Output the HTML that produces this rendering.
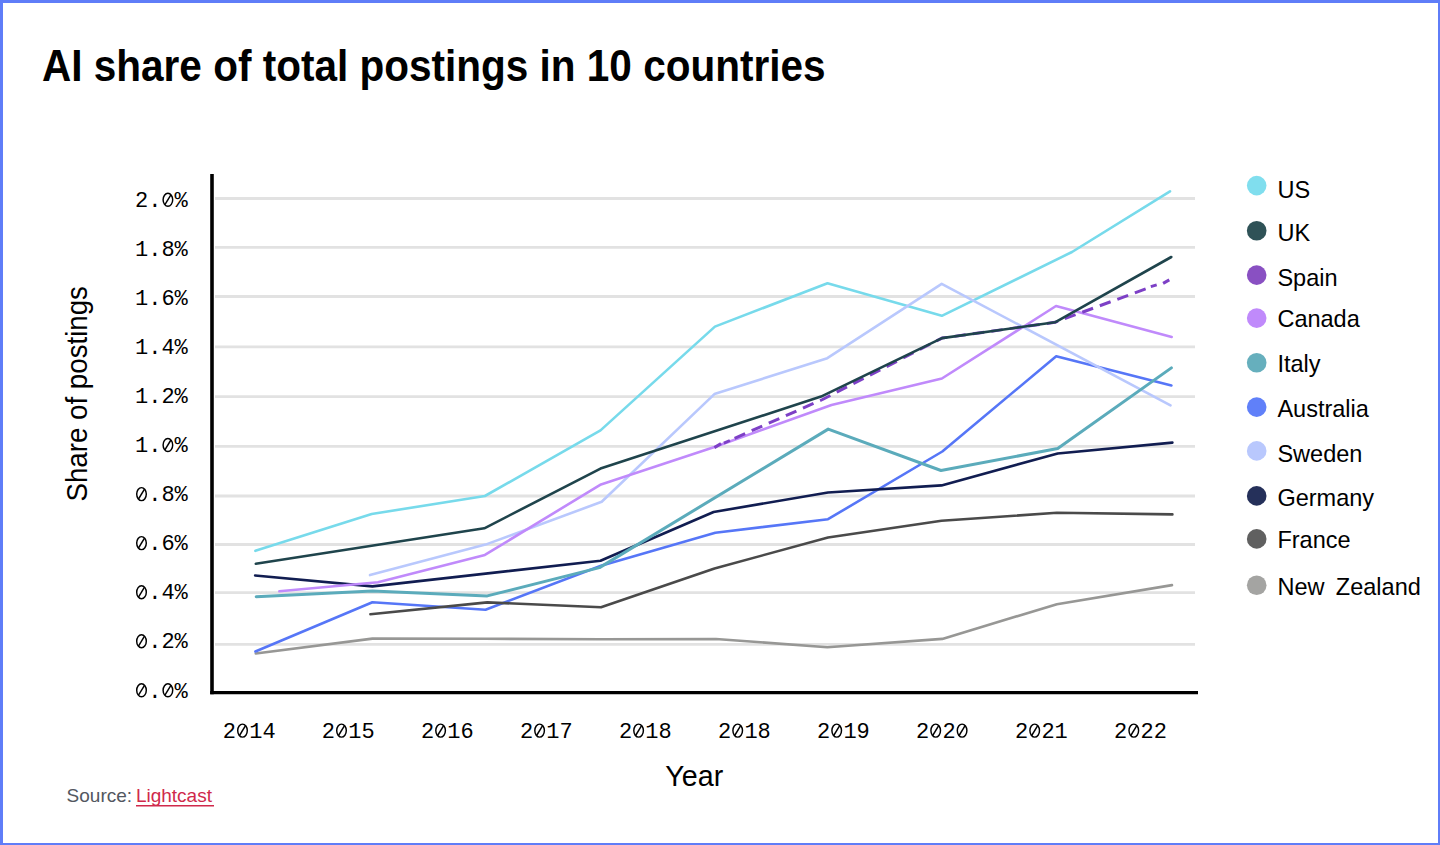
<!DOCTYPE html>
<html>
<head>
<meta charset="utf-8">
<style>
html,body{margin:0;padding:0;width:1440px;height:845px;overflow:hidden;background:#5f7df8;}
#card{position:absolute;left:3px;top:3px;width:1435px;height:840px;background:#fff;}
svg{position:absolute;left:0;top:0;}
.t{font-family:"Liberation Sans",sans-serif;}
.m{font-family:"Liberation Mono",monospace;}
</style>
</head>
<body>
<div id="card"></div>
<svg width="1440" height="845" viewBox="0 0 1440 845">
  <!-- title -->
  <text class="t" x="42" y="81.3" font-size="44.5" font-weight="bold" fill="#000" transform="translate(42 0) scale(0.911 1) translate(-42 0)">AI share of total postings in 10 countries</text>

  <!-- gridlines -->
  <g stroke="#e2e2e2" stroke-width="2.8" fill="none">
    <line x1="215" x2="1195" y1="198.5" y2="198.5"/>
    <line x1="215" x2="1195" y1="247.4" y2="247.4"/>
    <line x1="215" x2="1195" y1="296.5" y2="296.5"/>
    <line x1="215" x2="1195" y1="346.9" y2="346.9"/>
    <line x1="215" x2="1195" y1="396.6" y2="396.6"/>
    <line x1="215" x2="1195" y1="446.3" y2="446.3"/>
    <line x1="215" x2="1195" y1="496.0" y2="496.0"/>
    <line x1="215" x2="1195" y1="544.5" y2="544.5"/>
    <line x1="215" x2="1195" y1="592.6" y2="592.6"/>
    <line x1="215" x2="1195" y1="644.4" y2="644.4"/>
  </g>

  <!-- axis labels -->
  <g class="m" font-size="22" fill="#000">
    <text x="135.0" y="207.0">2. %</text>
    <text x="135.0" y="256.0">1.8%</text>
    <text x="135.0" y="305.1">1.6%</text>
    <text x="135.0" y="354.1">1.4%</text>
    <text x="135.0" y="403.2">1.2%</text>
    <text x="135.0" y="452.2">1. %</text>
    <text x="135.0" y="501.3"> .8%</text>
    <text x="135.0" y="550.3"> .6%</text>
    <text x="135.0" y="599.4"> .4%</text>
    <text x="135.0" y="648.4"> .2%</text>
    <text x="135.0" y="697.5"> . %</text>
    <text x="222.8" y="737.8">2 14</text>
    <text x="321.8" y="737.8">2 15</text>
    <text x="420.9" y="737.8">2 16</text>
    <text x="519.9" y="737.8">2 17</text>
    <text x="618.9" y="737.8">2 18</text>
    <text x="718.0" y="737.8">2 18</text>
    <text x="817.0" y="737.8">2 19</text>
    <text x="916.0" y="737.8">2 2 </text>
    <text x="1015.0" y="737.8">2 21</text>
    <text x="1114.1" y="737.8">2 22</text>
  </g>
  <g fill="none" stroke="#000" stroke-width="1.45">
    <ellipse cx="167.90" cy="199.80" rx="4.8" ry="6.5"/><line x1="170.90" y1="194.80" x2="164.90" y2="204.70"/>
    <ellipse cx="167.90" cy="445.00" rx="4.8" ry="6.5"/><line x1="170.90" y1="440.00" x2="164.90" y2="449.90"/>
    <ellipse cx="141.50" cy="494.10" rx="4.8" ry="6.5"/><line x1="144.50" y1="489.10" x2="138.50" y2="499.00"/>
    <ellipse cx="141.50" cy="543.10" rx="4.8" ry="6.5"/><line x1="144.50" y1="538.10" x2="138.50" y2="548.00"/>
    <ellipse cx="141.50" cy="592.20" rx="4.8" ry="6.5"/><line x1="144.50" y1="587.20" x2="138.50" y2="597.10"/>
    <ellipse cx="141.50" cy="641.20" rx="4.8" ry="6.5"/><line x1="144.50" y1="636.20" x2="138.50" y2="646.10"/>
    <ellipse cx="141.50" cy="690.30" rx="4.8" ry="6.5"/><line x1="144.50" y1="685.30" x2="138.50" y2="695.20"/>
    <ellipse cx="167.90" cy="690.30" rx="4.8" ry="6.5"/><line x1="170.90" y1="685.30" x2="164.90" y2="695.20"/>
    <ellipse cx="242.50" cy="730.60" rx="4.8" ry="6.5"/><line x1="245.50" y1="725.60" x2="239.50" y2="735.50"/>
    <ellipse cx="341.50" cy="730.60" rx="4.8" ry="6.5"/><line x1="344.50" y1="725.60" x2="338.50" y2="735.50"/>
    <ellipse cx="440.60" cy="730.60" rx="4.8" ry="6.5"/><line x1="443.60" y1="725.60" x2="437.60" y2="735.50"/>
    <ellipse cx="539.60" cy="730.60" rx="4.8" ry="6.5"/><line x1="542.60" y1="725.60" x2="536.60" y2="735.50"/>
    <ellipse cx="638.60" cy="730.60" rx="4.8" ry="6.5"/><line x1="641.60" y1="725.60" x2="635.60" y2="735.50"/>
    <ellipse cx="737.70" cy="730.60" rx="4.8" ry="6.5"/><line x1="740.70" y1="725.60" x2="734.70" y2="735.50"/>
    <ellipse cx="836.70" cy="730.60" rx="4.8" ry="6.5"/><line x1="839.70" y1="725.60" x2="833.70" y2="735.50"/>
    <ellipse cx="935.70" cy="730.60" rx="4.8" ry="6.5"/><line x1="938.70" y1="725.60" x2="932.70" y2="735.50"/>
    <ellipse cx="962.10" cy="730.60" rx="4.8" ry="6.5"/><line x1="965.10" y1="725.60" x2="959.10" y2="735.50"/>
    <ellipse cx="1034.70" cy="730.60" rx="4.8" ry="6.5"/><line x1="1037.70" y1="725.60" x2="1031.70" y2="735.50"/>
    <ellipse cx="1133.80" cy="730.60" rx="4.8" ry="6.5"/><line x1="1136.80" y1="725.60" x2="1130.80" y2="735.50"/>
  </g>

  <!-- axis titles -->
  <text class="t" font-size="29" fill="#000" transform="translate(87.3 501.5) rotate(-90) scale(0.955 1)">Share of postings</text>
  <text class="t" font-size="30" fill="#000" transform="translate(665.3 785.6) scale(0.955 1)">Year</text>

  <!-- source -->
  <text class="t" font-size="19" x="66.6" y="801.7" fill="#525760">Source:</text>
  <text class="t" font-size="19" x="135.9" y="801.7" fill="#d0294b">Lightcast</text>
  <line x1="136" x2="214" y1="805.8" y2="805.8" stroke="#d0294b" stroke-width="1.6"/>

  <!-- series -->
  <g fill="none" stroke-width="2.6" stroke-linejoin="round" stroke-linecap="round">
    <polyline stroke="#77daeb" points="255.4,550.8 371.7,514 484.9,496 600.5,430.4 714.9,326.6 827.5,283.3 941.8,315.8 1072,252 1170,191.3"/>
    <polyline stroke="#979795" points="255.8,653.5 372.4,638.6 485,638.8 600,639.2 716,639 827.3,647.2 942.3,638.9 1056.9,604.2 1172,585.1"/>
    <polyline stroke="#5676f7" points="255.4,651.5 372.4,602.3 485.5,609.8 601,565.8 715.3,532.7 828,519.2 942.3,451.5 1056.2,356.2 1171.4,385.4"/>
    <polyline stroke="#4a4a4a" points="370.4,614.2 487.3,602.4 601,607.3 714.5,568.5 828,537.5 941.5,520.7 1056.9,512.8 1172.4,514.4"/>
    <polyline stroke="#111d51" points="255.1,575.5 372.4,586.4 600.5,560.7 713.6,512 828,492.5 941.5,485.4 1057.7,453.5 1172.4,442.6"/>
    <polyline stroke="#b9c8fd" points="370,575.1 485.5,544.6 601.7,501.8 714.4,394.1 827.3,358.2 941.7,283.8 1170.5,405.4"/>
    <polyline stroke="#5babbb" stroke-width="3" points="256.2,596.7 372.4,591 487.3,595.9 599.5,567.6 828.2,429.1 941,470.5 1057.7,448.5 1171.4,367.9"/>
    <polyline stroke="#c08afb" points="279.4,591.3 378,582.3 484.9,554.9 601,484.4 714.5,447 831.5,405 941.9,378.5 1056,306 1171.7,336.9"/>
    <polyline stroke="#7d40c6" stroke-width="3" stroke-linecap="butt" stroke-dasharray="11.5 7.18" stroke-dashoffset="-3.4" points="731.5,439.65 822.5,399.5 942,338.1 1055,322.3 1146,288.7"/>
    <path stroke="#7d40c6" stroke-width="3" stroke-linecap="butt" d="M714.4 447.6 L721 443.6 M723.9 443.2 L729.9 440.5"/>
    <path stroke="#7d40c6" stroke-width="3" stroke-linecap="butt" d="M1150.8 286.6 L1156.7 284.9 M1163.1 283.4 L1169.3 279.9"/>
    <polyline stroke="#1f444c" points="255.8,563.8 484.3,528.3 600.5,468.6 821,396.6 942,338.1 1055,322.3 1171.3,257"/>
  </g>

  <!-- axes -->
  <line x1="212" x2="212" y1="174" y2="694.2" stroke="#000" stroke-width="3.6"/>
  <line x1="210.2" x2="1198" y1="692.6" y2="692.6" stroke="#000" stroke-width="3.2"/>

  <!-- legend -->
  <g>
    <circle cx="1256.7" cy="185.6" r="9.8" fill="#80deee"/>
    <circle cx="1256.7" cy="230.8" r="9.8" fill="#2f5257"/>
    <circle cx="1256.7" cy="275.1" r="9.8" fill="#8950c2"/>
    <circle cx="1256.7" cy="318.1" r="9.8" fill="#c08afb"/>
    <circle cx="1256.7" cy="362.8" r="9.8" fill="#66afbd"/>
    <circle cx="1256.7" cy="407.1" r="9.8" fill="#6080f9"/>
    <circle cx="1256.7" cy="450.9" r="9.8" fill="#b9c8fd"/>
    <circle cx="1256.7" cy="495.9" r="9.8" fill="#25305a"/>
    <circle cx="1256.7" cy="538.9" r="9.8" fill="#606060"/>
    <circle cx="1256.7" cy="585.2" r="9.8" fill="#a4a4a2"/>
  </g>
  <g class="t" font-size="24" fill="#000" transform="translate(1277.4 0) scale(0.98 1)">
    <text x="0" y="198.5">US</text>
    <text x="0" y="241.4">UK</text>
    <text x="0" y="286.1">Spain</text>
    <text x="0" y="327.5">Canada</text>
    <text x="0" y="372.3">Italy</text>
    <text x="0" y="416.9">Australia</text>
    <text x="0" y="461.7">Sweden</text>
    <text x="0" y="505.6">Germany</text>
    <text x="0" y="548.2">France</text>
    <text x="0" y="594.7" word-spacing="5">New Zealand</text>
  </g>
</svg>
</body>
</html>
